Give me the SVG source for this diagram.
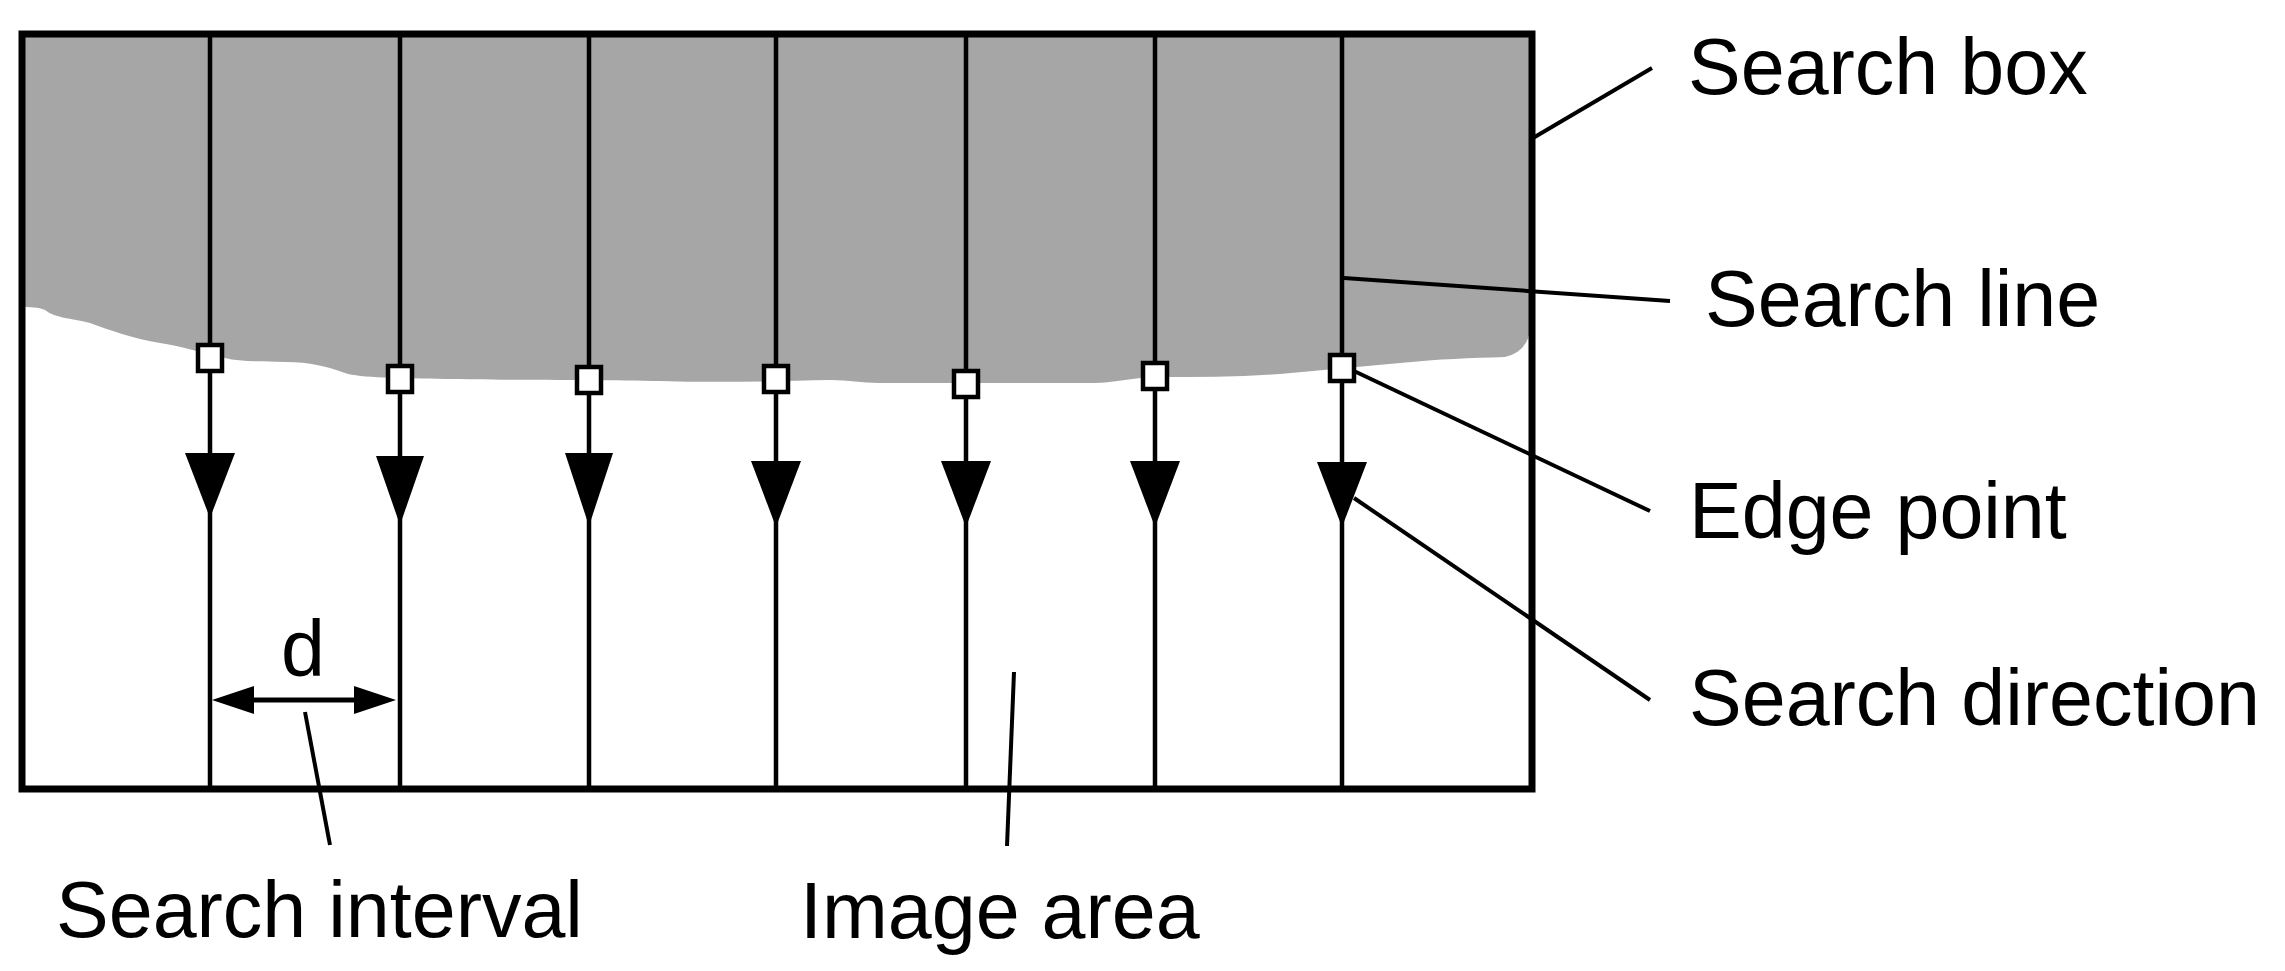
<svg xmlns="http://www.w3.org/2000/svg" width="2285" height="971" viewBox="0 0 2285 971">
  <style>
    .lbl { font-family: "Liberation Sans", Arial, sans-serif; font-size: 79px; fill: #000; }
    .sl { stroke: #000; stroke-width: 4.5; fill: none; }
    .ep { fill: #fff; stroke: #000; stroke-width: 4.5; }
    .ah { fill: #000; stroke: none; }
    .leader { stroke: #000; stroke-width: 4; fill: none; }
  </style>
  <rect width="2285" height="971" fill="#fff"/>

  <g id="search-box">
    <path id="dark-region" fill="#a6a6a6" d="M22,34 L1530,34 L1530,330 Q1527,352 1505,357 C1470,358 1440,359 1400,363 C1360,367 1320,370 1280,374 C1240,377 1200,377 1160,377 C1130,377 1120,383 1090,383 L880,383 C860,383 850,380 830,380 C780,381 720,383 660,381 C600,380 500,380 446,379 C400,378 360,378 345,373 C325,366 310,362 286,362 C260,361 240,362 225,358 C200,352 180,346 160,343 C130,338 110,330 90,323 C70,318 55,318 45,310 C38,307 30,307 22,307 Z"/>
    <rect x="22" y="34" width="1510" height="755" fill="none" stroke="#000" stroke-width="7"/>
  </g>

  <g id="search-lines">
    <g id="line1">
      <line class="sl" x1="210" y1="34" x2="210" y2="789"/>
      <polygon class="ah" points="185,453 235,453 210,518"/>
      <rect class="ep" x="198" y="345" width="24" height="26"/>
    </g>
    <g id="line2">
      <line class="sl" x1="400" y1="34" x2="400" y2="789"/>
      <polygon class="ah" points="376,456 424,456 400,525"/>
      <rect class="ep" x="388" y="366" width="24" height="26"/>
    </g>
    <g id="line3">
      <line class="sl" x1="589" y1="34" x2="589" y2="789"/>
      <polygon class="ah" points="565,453 613,453 589,526"/>
      <rect class="ep" x="577" y="367" width="24" height="26"/>
    </g>
    <g id="line4">
      <line class="sl" x1="776" y1="34" x2="776" y2="789"/>
      <polygon class="ah" points="751,461 801,461 776,527"/>
      <rect class="ep" x="764" y="366" width="24" height="26"/>
    </g>
    <g id="line5">
      <line class="sl" x1="966" y1="34" x2="966" y2="789"/>
      <polygon class="ah" points="941,461 991,461 966,527"/>
      <rect class="ep" x="954" y="371" width="24" height="26"/>
    </g>
    <g id="line6">
      <line class="sl" x1="1155" y1="34" x2="1155" y2="789"/>
      <polygon class="ah" points="1130,461 1180,461 1155,527"/>
      <rect class="ep" x="1143" y="363" width="24" height="26"/>
    </g>
    <g id="line7">
      <line class="sl" x1="1342" y1="34" x2="1342" y2="789"/>
      <polygon class="ah" points="1317,462 1367,462 1342,527"/>
      <rect class="ep" x="1330" y="355" width="24" height="26"/>
    </g>
  </g>

  <g id="interval-d">
    <line x1="240" y1="700" x2="368" y2="700" stroke="#000" stroke-width="5"/>
    <polygon class="ah" points="212,700 254,686 254,714"/>
    <polygon class="ah" points="396,700 354,686 354,714"/>
    <text class="lbl" x="303" y="676" text-anchor="middle">d</text>
  </g>

  <g id="connectors">
    <line class="leader" x1="1533" y1="138" x2="1652" y2="68"/>
    <line class="leader" x1="1344" y1="278" x2="1670" y2="301"/>
    <line class="leader" x1="1354" y1="371" x2="1650" y2="511"/>
    <line class="leader" x1="1354" y1="498" x2="1650" y2="700"/>
    <line class="leader" x1="305" y1="712" x2="330" y2="845"/>
    <line class="leader" x1="1014" y1="672" x2="1007" y2="846"/>
  </g>

  <g id="label-search-box"><text class="lbl" x="1688" y="94">Search box</text></g>
  <g id="label-search-line"><text class="lbl" x="1705" y="326">Search line</text></g>
  <g id="label-edge-point"><text class="lbl" x="1689" y="538">Edge point</text></g>
  <g id="label-search-direction"><text class="lbl" x="1689" y="725">Search direction</text></g>
  <g id="label-search-interval"><text class="lbl" x="56" y="937">Search interval</text></g>
  <g id="label-image-area"><text class="lbl" x="800" y="938">Image area</text></g>
</svg>
